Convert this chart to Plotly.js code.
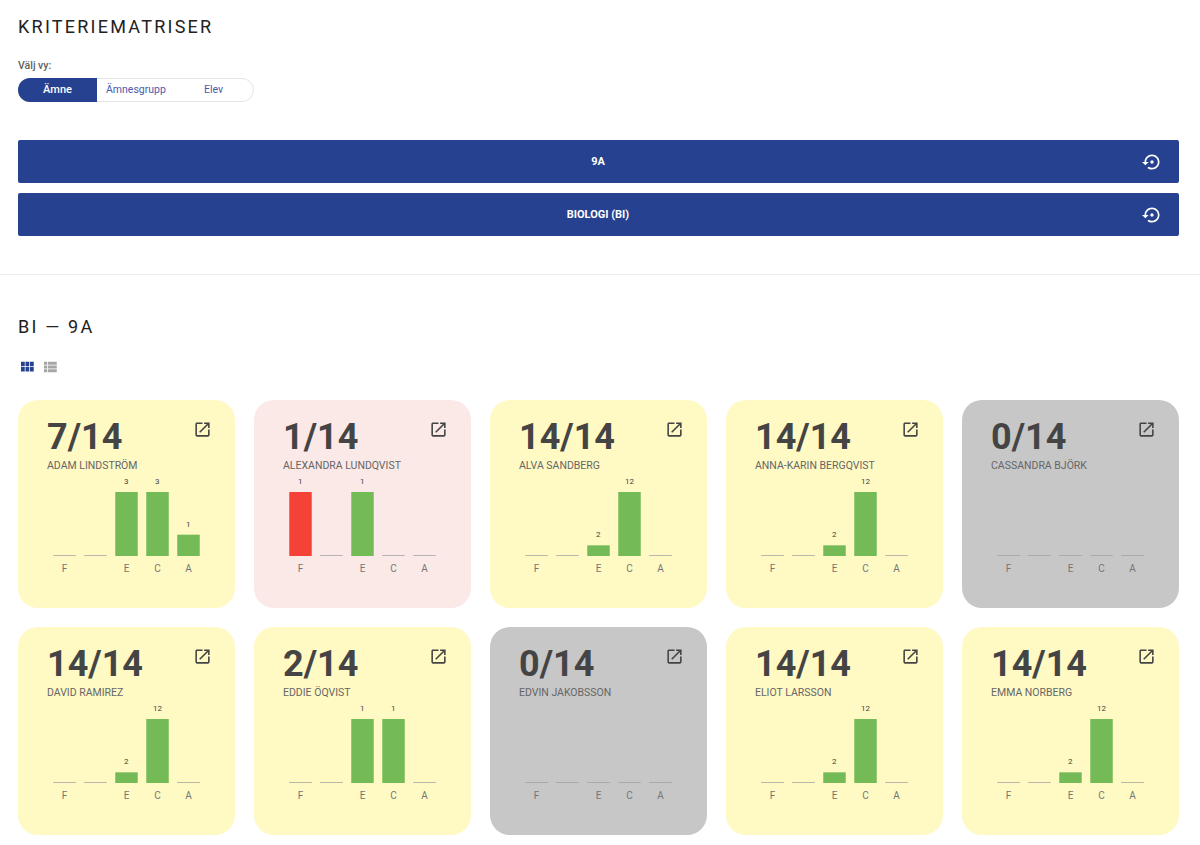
<!DOCTYPE html>
<html lang="sv">
<head>
<meta charset="utf-8">
<title>Kriteriematriser</title>
<script src="https://cdn.plot.ly/plotly-3.0.1.min.js"></script>
<style>
  html,body{margin:0;padding:0;background:#fff;width:1200px;height:845px;overflow:hidden;font-family:Roboto,sans-serif}
  .abs{position:absolute}
  #title{left:18px;top:15px;font-size:18px;line-height:24px;letter-spacing:2.25px;color:#212121;font-weight:400}
  #vy{left:18px;top:59px;font-size:10.5px;line-height:14px;color:#616161;font-weight:500}
  #toggle{left:18px;top:78px;width:234px;height:22px;border:1px solid #e4e4e4;border-radius:12px;background:#fff}
  #active{left:18px;top:78px;width:79px;height:24px;border-radius:12px 0 0 12px;background:#26418f;color:#fff;font-size:11px;font-weight:500;line-height:23px;text-align:center}
  .opt{top:78px;font-size:10.5px;line-height:23px;color:#4a5cae}
  .band{left:18px;width:1161px;height:43px;background:#26418f;border-radius:2px;color:#fff;font-size:11px;font-weight:700;line-height:43px;text-align:center}
  .band span{position:absolute;left:0;width:1160px;text-align:center}
  .band svg{position:absolute;left:1123.5px;top:11.5px;width:20px;height:20px;fill:#fff}
  #divider{left:0;top:274px;width:1200px;height:1px;background:#ececec}
  #sub{left:18px;top:316px;font-size:18px;line-height:22px;letter-spacing:2.2px;color:#212121}
  .card{position:absolute;width:217px;height:208px;border-radius:20px;overflow:hidden}
  .score{position:absolute;left:29px;top:15px;font-size:36px;line-height:44px;font-weight:700;color:#444;white-space:nowrap}
  .name{position:absolute;left:29px;top:59px;font-size:10.5px;line-height:14px;color:#666;white-space:nowrap}
  .open{position:absolute;left:174.5px;top:19.5px;width:19px;height:19px;fill:#444}
  .plot{position:absolute;left:0;top:0;width:217px;height:208px}
</style>
</head>
<body>
<div class="abs" id="title">KRITERIEMATRISER</div>
<div class="abs" id="vy">Välj vy:</div>
<div class="abs" id="toggle"></div>
<div class="abs" id="active">Ämne</div>
<div class="abs opt" style="left:106px">Ämnesgrupp</div>
<div class="abs opt" style="left:204px">Elev</div>
<div class="abs band" style="top:140px"><span>9A</span><svg viewBox="0 0 24 24"><path d="M14 12c0-1.1-.9-2-2-2s-2 .9-2 2 .9 2 2 2 2-.9 2-2zm-2-9c-4.97 0-9 4.03-9 9H0l4 4 4-4H5c0-3.87 3.13-7 7-7s7 3.13 7 7-3.13 7-7 7c-1.51 0-2.91-.49-4.06-1.3l-1.42 1.44C8.04 20.3 9.94 21 12 21c4.97 0 9-4.03 9-9s-4.03-9-9-9z"/></svg></div>
<div class="abs band" style="top:193px"><span>BIOLOGI (BI)</span><svg viewBox="0 0 24 24"><path d="M14 12c0-1.1-.9-2-2-2s-2 .9-2 2 .9 2 2 2 2-.9 2-2zm-2-9c-4.97 0-9 4.03-9 9H0l4 4 4-4H5c0-3.87 3.13-7 7-7s7 3.13 7 7-3.13 7-7 7c-1.51 0-2.91-.49-4.06-1.3l-1.42 1.44C8.04 20.3 9.94 21 12 21c4.97 0 9-4.03 9-9s-4.03-9-9-9z"/></svg></div>
<div class="abs" id="divider"></div>
<div class="abs" id="sub">BI — 9A</div>
<svg class="abs" style="left:18px;top:358px;width:18px;height:18px;fill:#26418f" viewBox="0 0 24 24"><path d="M4 11h5V5H4v6zm0 7h5v-6H4v6zm6 0h5v-6h-5v6zm6 0h5v-6h-5v6zm-6-7h5V5h-5v6zm6-6v6h5V5h-5z"/></svg>
<svg class="abs" style="left:40.5px;top:358px;width:18px;height:18px;fill:#a6a6a6" viewBox="0 0 24 24"><path d="M4 14h4v-4H4v4zm0 5h4v-4H4v4zm0-10h4V5H4v4zm5 5h12v-4H9v4zm0 5h12v-4H9v4zM9 5v4h12V5H9z"/></svg>
<div id="cards"></div>
<script>
const grades = ['F', ' ', 'E', 'C', 'A'];
const students = ['ADAM LINDSTRÖM','ALEXANDRA LUNDQVIST','ALVA SANDBERG','ANNA-KARIN BERGQVIST','CASSANDRA BJÖRK','DAVID RAMIREZ','EDDIE ÖQVIST','EDVIN JAKOBSSON','ELIOT LARSSON','EMMA NORBERG'];
const scores = ['7/14','1/14','14/14','14/14','0/14','14/14','2/14','0/14','14/14','14/14'];
const counts = [
  [0,0,3,3,1],
  [1,0,1,0,0],
  [0,0,2,12,0],
  [0,0,2,12,0],
  [0,0,0,0,0],
  [0,0,2,12,0],
  [0,0,1,1,0],
  [0,0,0,0,0],
  [0,0,2,12,0],
  [0,0,2,12,0]
];
const cardColors = ['#FFF9C4','#FBE9E7','#FFF9C4','#FFF9C4','#C7C7C7','#FFF9C4','#FFF9C4','#C7C7C7','#FFF9C4','#FFF9C4'];
const GREEN = '#74BB57', RED = '#F44336', BASE = '#A0A0A0';
const cardX = [18,254,490,726,962];
const cardY = [400,627];
const openIcon = 'M19 19H5V5h7V3H5c-1.11 0-2 .9-2 2v14c0 1.1.89 2 2 2h14c1.1 0 2-.9 2-2v-7h-2v7zM14 3v2h3.59l-9.83 9.83 1.41 1.41L19 6.41V10h2V3h-7z';
const host = document.getElementById('cards');
students.forEach((name, i) => {
  const card = document.createElement('div');
  card.className = 'card';
  card.style.left = cardX[i % 5] + 'px';
  card.style.top = cardY[Math.floor(i / 5)] + 'px';
  card.style.background = cardColors[i];
  card.innerHTML = '<div class="plot"></div><div class="score">' + scores[i] + '</div><div class="name">' + name + '</div>' +
    '<svg class="open" viewBox="0 0 24 24"><path d="' + openIcon + '"/></svg>';
  host.appendChild(card);
  const vals = counts[i];
  const top = Math.max(1, ...vals);
  const labels = [];
  vals.forEach((v, k) => {
    if (v > 0) labels.push({x: grades[k], y: v, text: String(v), showarrow: false, yanchor: 'bottom', yshift: 4,
      font: {family: 'Roboto, sans-serif', size: 8, color: '#424242'}});
  });
  Plotly.newPlot(card.querySelector('.plot'), [{
    type: 'bar',
    x: grades,
    y: vals,
    cliponaxis: false,
    marker: {
      color: grades.map(g => g === 'F' ? RED : GREEN),
      line: {color: BASE, width: vals.map(v => v > 0 ? 0 : 1)}
    },
    hoverinfo: 'skip'
  }], {
    width: 217, height: 208,
    margin: {l: 30.8, r: 31.2, t: 92.4, b: 52, pad: 0},
    paper_bgcolor: 'rgba(0,0,0,0)',
    plot_bgcolor: 'rgba(0,0,0,0)',
    bargap: 0.274,
    showlegend: false,
    annotations: labels,
    xaxis: {type: 'category', categoryorder: 'array', categoryarray: grades, range: [-0.5, 4.5], showgrid: false, zeroline: false, showline: false, ticks: '', ticklabelstandoff: 5, tickfont: {family: 'Roboto, sans-serif', size: 10, color: '#757575'}, automargin: false, fixedrange: true},
    yaxis: {range: [0, top], visible: false, fixedrange: true}
  }, {staticPlot: true, displayModeBar: false});
});
</script>
</body>
</html>
